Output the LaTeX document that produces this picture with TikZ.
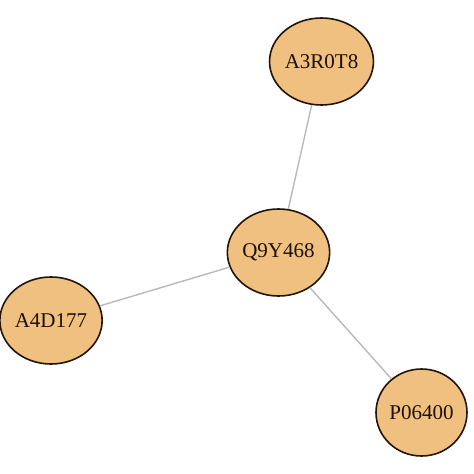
\documentclass[tikz,border=0pt]{standalone}
\usepackage{fontspec}
\setmainfont{Liberation Serif}
\usetikzlibrary{shapes.geometric}
\definecolor{nodefill}{RGB}{240,192,128}
\definecolor{nodeline}{RGB}{35,20,10}
\definecolor{edgecol}{RGB}{185,185,185}
\definecolor{labelcol}{RGB}{30,15,5}
\begin{document}
\begin{tikzpicture}[x=1pt,y=-1pt,
  prot/.style={ellipse,draw=nodeline,fill=nodefill,line width=1.6pt,minimum width=91pt,minimum height=87pt,inner sep=0pt,font=\fontsize{21}{23}\selectfont,text=labelcol},
  link/.style={draw=edgecol,line width=1.4pt}]
\useasboundingbox (0,0) rectangle (474,474);
\node[prot] (a3) at (321.5,61.5) {A3R0T8};
\node[prot] (q9) at (278.5,252.5) {Q9Y468};
\node[prot] (a4) at (51,320.5) {A4D177};
\node[prot] (p0) at (421.5,412.5) {P06400};
\draw[link] (q9) -- (a3);
\draw[link] (q9) -- (a4);
\draw[link] (q9) -- (p0);
\end{tikzpicture}
\end{document}
